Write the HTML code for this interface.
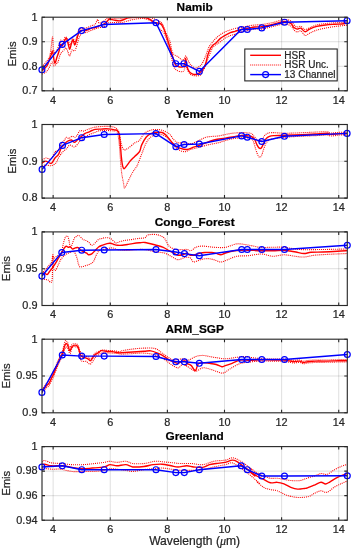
<!DOCTYPE html><html><head><meta charset="utf-8"><title>Emissivity spectra</title><style>html,body{margin:0;padding:0;background:#fff;width:353px;height:550px;overflow:hidden}svg{display:block}text{font-family:"Liberation Sans",Arial,Helvetica,sans-serif;stroke:#262626;stroke-width:0.22px}text.t{stroke:#000}</style></head><body><svg width="353" height="550" viewBox="0 0 353 550"><rect width="353" height="550" fill="#fff"/><g><path d="M53.14 17.2V90.8M110.26 17.2V90.8M167.38 17.2V90.8M224.49 17.2V90.8M281.61 17.2V90.8M338.73 17.2V90.8" stroke="#262626" stroke-opacity="0.17" stroke-width="0.9" fill="none"/><path d="M42 66.27H347.3M42 41.73H347.3" stroke="#262626" stroke-opacity="0.17" stroke-width="0.9" fill="none"/><clipPath id="c0"><rect x="42" y="17.2" width="305.3" height="73.6"/></clipPath><g clip-path="url(#c0)" fill="none"><path d="M42 67C42.67 66.17 44.67 64 46 62C47.33 60 48.92 59.17 50 55C51.08 50.83 51.92 37.83 52.5 37C53.08 36.17 52.92 47.5 53.5 50C54.08 52.5 55.08 52.83 56 52C56.92 51.17 58.17 47 59 45C59.83 43 60.33 40.5 61 40C61.67 39.5 62.27 42.52 63 42C63.73 41.48 64.57 37.23 65.4 36.9C66.23 36.57 67.23 38.65 68 40C68.77 41.35 69.17 45.33 70 45C70.83 44.67 72.17 38.5 73 38C73.83 37.5 74.17 43 75 42C75.83 41 77.17 34.17 78 32C78.83 29.83 78.67 29.67 80 29C81.33 28.33 84 28.58 86 28C88 27.42 90.5 26.08 92 25.5C93.5 24.92 94.03 25.52 95 24.5C95.97 23.48 97.13 19.65 97.8 19.4C98.47 19.15 97.97 22.73 99 23C100.03 23.27 102.67 21.75 104 21C105.33 20.25 105.67 18.95 107 18.5C108.33 18.05 110.17 18.25 112 18.3C113.83 18.35 116 18.85 118 18.8C120 18.75 122 18.3 124 18C126 17.7 126 17.17 130 17C134 16.83 144.47 16.85 148 17C151.53 17.15 149.87 17.48 151.2 17.9C152.53 18.32 154.5 18.85 156 19.5C157.5 20.15 159.03 20.88 160.2 21.8C161.37 22.72 162.03 23.13 163 25C163.97 26.87 164.87 30.33 166 33C167.13 35.67 168.78 37.95 169.8 41C170.82 44.05 171.33 49.02 172.1 51.3C172.87 53.58 173.37 53.75 174.4 54.7C175.43 55.65 176.88 56.07 178.3 57C179.72 57.93 181.67 60.47 182.9 60.3C184.13 60.13 185.02 56.38 185.7 56C186.38 55.62 186.28 56.67 187 58C187.72 59.33 188.67 62.33 190 64C191.33 65.67 193.33 67.67 195 68C196.67 68.33 198.67 67 200 66C201.33 65 202 63.83 203 62C204 60.17 205 57.5 206 55C207 52.5 207.78 49.3 209 47C210.22 44.7 211.63 43.1 213.3 41.2C214.97 39.3 217.1 37.13 219 35.6C220.9 34.07 222.82 32.95 224.7 32C226.58 31.05 228.58 30.48 230.3 29.9C232.02 29.32 233.22 28.9 235 28.5C236.78 28.1 238.83 27.92 241 27.5C243.17 27.08 245.67 26.42 248 26C250.33 25.58 252.67 25.25 255 25C257.33 24.75 259 24.92 262 24.5C265 24.08 269.33 23.33 273 22.5C276.67 21.67 281 19.75 284 19.5C287 19.25 289.33 20.08 291 21C292.67 21.92 293 24 294 25C295 26 295.83 26.75 297 27C298.17 27.25 299.67 26.08 301 26.5C302.33 26.92 303.5 29.33 305 29.5C306.5 29.67 308 28.28 310 27.5C312 26.72 314.33 25.47 317 24.8C319.67 24.13 323 23.83 326 23.5C329 23.17 332 23 335 22.8C338 22.6 341.95 22.52 344 22.3C346.05 22.08 346.75 21.63 347.3 21.5" stroke="#ff0000" stroke-width="1.1" stroke-dasharray="1 1"/><path d="M42 74C42.67 73.67 44.83 73 46 72C47.17 71 48 69.67 49 68C50 66.33 51.17 62.33 52 62C52.83 61.67 53.33 65.67 54 66C54.67 66.33 55.33 64.67 56 64C56.67 63.33 57.33 63.5 58 62C58.67 60.5 59.33 56.67 60 55C60.67 53.33 61.33 52.83 62 52C62.67 51.17 63.33 50.67 64 50C64.67 49.33 65.33 47.67 66 48C66.67 48.33 67.4 50.67 68 52C68.6 53.33 68.93 56.33 69.6 56C70.27 55.67 71.15 50.85 72 50C72.85 49.15 73.87 51.73 74.7 50.9C75.53 50.07 76.28 47.15 77 45C77.72 42.85 78.17 40 79 38C79.83 36 80.83 33.92 82 33C83.17 32.08 84.33 33 86 32.5C87.67 32 90 30.75 92 30C94 29.25 96 28.58 98 28C100 27.42 102.68 27.23 104 26.5C105.32 25.77 104.45 24.27 105.9 23.6C107.35 22.93 110.07 22.68 112.7 22.5C115.33 22.32 119.43 22.7 121.7 22.5C123.97 22.3 124.02 21.87 126.3 21.3C128.58 20.73 132.38 19.55 135.4 19.1C138.42 18.65 141.77 18.3 144.4 18.6C147.03 18.9 149.43 20.25 151.2 20.9C152.97 21.55 153.87 21.48 155 22.5C156.13 23.52 157 25.75 158 27C159 28.25 159.88 28.78 161 30C162.12 31.22 163.52 31.88 164.7 34.3C165.88 36.72 167.15 41.3 168.1 44.5C169.05 47.7 169.73 50.87 170.4 53.5C171.07 56.13 171.53 58.03 172.1 60.3C172.67 62.57 172.95 65.4 173.8 67.1C174.65 68.8 175.88 69.73 177.2 70.5C178.52 71.27 180.57 71.7 181.7 71.7C182.83 71.7 183.33 71.63 184 70.5C184.67 69.37 185.12 64.98 185.7 64.9C186.28 64.82 186.78 68.48 187.5 70C188.22 71.52 189.23 73.13 190 74C190.77 74.87 191.1 74.88 192.1 75.2C193.1 75.52 194.6 75.93 196 75.9C197.4 75.87 199.33 75.82 200.5 75C201.67 74.18 202.25 72.33 203 71C203.75 69.67 204.33 68.67 205 67C205.67 65.33 206.2 63.17 207 61C207.8 58.83 208.75 56.35 209.8 54C210.85 51.65 211.77 48.78 213.3 46.9C214.83 45.02 217.1 44.12 219 42.7C220.9 41.28 222.82 39.58 224.7 38.4C226.58 37.22 228.58 36.3 230.3 35.6C232.02 34.9 233.22 34.8 235 34.2C236.78 33.6 238.83 32.62 241 32C243.17 31.38 245.67 31 248 30.5C250.33 30 252.67 29.25 255 29C257.33 28.75 259 29.42 262 29C265 28.58 269.33 27.33 273 26.5C276.67 25.67 281 24.08 284 24C287 23.92 289.33 25 291 26C292.67 27 293 29 294 30C295 31 295.83 31.83 297 32C298.17 32.17 299.67 30.43 301 31C302.33 31.57 303.5 35.07 305 35.4C306.5 35.73 308 33.9 310 33C312 32.1 314.33 30.83 317 30C319.67 29.17 323 28.58 326 28C329 27.42 332 26.92 335 26.5C338 26.08 341.95 25.75 344 25.5C346.05 25.25 346.75 25.08 347.3 25" stroke="#ff0000" stroke-width="1.1" stroke-dasharray="1 1"/><path d="M42 70.8C42.85 69.95 45.83 67.68 47.1 65.7C48.37 63.72 48.9 60.75 49.6 58.9C50.3 57.05 50.8 55.88 51.3 54.6C51.8 53.32 52.03 49.8 52.6 51.2C53.17 52.6 53.97 62.03 54.7 63C55.43 63.97 56.28 58.97 57 57C57.72 55.03 58.38 53.3 59 51.2C59.62 49.1 60.17 45.27 60.7 44.4C61.23 43.53 61.65 46.4 62.2 46C62.75 45.6 63.33 43.32 64 42C64.67 40.68 65.53 37.9 66.2 38.1C66.87 38.3 67.43 41.35 68 43.2C68.57 45.05 69.05 49.05 69.6 49.2C70.15 49.35 70.73 45.67 71.3 44.1C71.87 42.53 72.43 39.65 73 39.8C73.57 39.95 74.13 44.85 74.7 45C75.27 45.15 75.83 42.42 76.4 40.7C76.97 38.98 77.53 36.27 78.1 34.7C78.67 33.13 79.08 32 79.8 31.3C80.52 30.6 81.4 30.63 82.4 30.5C83.4 30.37 84.82 30.65 85.8 30.5C86.78 30.35 87.2 30.05 88.3 29.6C89.4 29.15 91.28 28.13 92.4 27.8C93.52 27.47 93.82 27.97 95 27.6C96.18 27.23 98.17 26.12 99.5 25.6C100.83 25.08 101.87 25.07 103 24.5C104.13 23.93 105.25 23.1 106.3 22.2C107.35 21.3 108.35 19.53 109.3 19.1C110.25 18.67 111.05 19.42 112 19.6C112.95 19.78 113.75 19.98 115 20.2C116.25 20.42 118 21.02 119.5 20.9C121 20.78 122.5 20 124 19.5C125.5 19 126.6 18.28 128.5 17.9C130.4 17.52 133.12 17.32 135.4 17.2C137.68 17.08 140.32 17.08 142.2 17.2C144.08 17.32 145.2 17.4 146.7 17.9C148.2 18.4 149.88 19.43 151.2 20.2C152.52 20.97 153.1 21.95 154.6 22.5C156.1 23.05 158.88 22.87 160.2 23.5C161.52 24.13 161.75 25.07 162.5 26.3C163.25 27.53 163.95 29 164.7 30.9C165.45 32.8 166.33 35.63 167 37.7C167.67 39.77 168.13 41.42 168.7 43.3C169.27 45.18 169.83 47.1 170.4 49C170.97 50.9 171.53 52.82 172.1 54.7C172.67 56.58 173.23 58.6 173.8 60.3C174.37 62 174.75 63.85 175.5 64.9C176.25 65.95 177.35 66.23 178.3 66.6C179.25 66.97 180.35 67.1 181.2 67.1C182.05 67.1 182.75 67.35 183.4 66.6C184.05 65.85 184.72 63.93 185.1 62.6C185.48 61.27 185.37 57.92 185.7 58.6C186.03 59.28 186.52 64.52 187.1 66.7C187.68 68.88 188.37 70.52 189.2 71.7C190.03 72.88 191.03 73.33 192.1 73.8C193.17 74.27 194.42 74.62 195.6 74.5C196.78 74.38 198.02 73.92 199.2 73.1C200.38 72.28 201.65 71.13 202.7 69.6C203.75 68.07 204.67 66.27 205.5 63.9C206.33 61.53 206.98 57.77 207.7 55.4C208.42 53.03 208.98 51.35 209.8 49.7C210.62 48.05 211.53 46.67 212.6 45.5C213.67 44.33 214.9 43.88 216.2 42.7C217.5 41.52 218.98 39.58 220.4 38.4C221.82 37.22 223.05 36.55 224.7 35.6C226.35 34.65 228.58 33.42 230.3 32.7C232.02 31.98 233.18 31.83 235 31.3C236.82 30.77 239.03 30.02 241.2 29.5C243.37 28.98 245.73 28.62 248 28.2C250.27 27.78 252.5 27.25 254.8 27C257.1 26.75 258.82 27.12 261.8 26.7C264.78 26.28 269 25.37 272.7 24.5C276.4 23.63 280.98 21.7 284 21.5C287.02 21.3 289.2 22.33 290.8 23.3C292.4 24.27 292.55 26.33 293.6 27.3C294.65 28.27 295.92 28.95 297.1 29.1C298.28 29.25 299.35 27.75 300.7 28.2C302.05 28.65 303.72 31.65 305.2 31.8C306.68 31.95 307.67 30 309.6 29.1C311.53 28.2 314.12 27.08 316.8 26.4C319.48 25.72 322.73 25.35 325.7 25C328.67 24.65 331.62 24.5 334.6 24.3C337.58 24.1 341.48 24.03 343.6 23.8C345.72 23.57 346.68 23.05 347.3 22.9" stroke="#ff0000" stroke-width="1.4" stroke-linejoin="round"/><polyline points="41.9,69.8 62.2,44.4 81.7,30.6 104.2,24.5 156,22.7 175.7,63.7 183.9,63.7 199.3,71.4 241.2,29.5 247.3,29.5 261.8,27.9 284.5,22.2 347.1,20.7" stroke="#0000ff" stroke-width="1.45" stroke-linejoin="round"/></g><circle cx="41.9" cy="69.8" r="2.95" stroke="#0000ff" stroke-width="1.2" fill="none"/><circle cx="62.2" cy="44.4" r="2.95" stroke="#0000ff" stroke-width="1.2" fill="none"/><circle cx="81.7" cy="30.6" r="2.95" stroke="#0000ff" stroke-width="1.2" fill="none"/><circle cx="104.2" cy="24.5" r="2.95" stroke="#0000ff" stroke-width="1.2" fill="none"/><circle cx="156" cy="22.7" r="2.95" stroke="#0000ff" stroke-width="1.2" fill="none"/><circle cx="175.7" cy="63.7" r="2.95" stroke="#0000ff" stroke-width="1.2" fill="none"/><circle cx="183.9" cy="63.7" r="2.95" stroke="#0000ff" stroke-width="1.2" fill="none"/><circle cx="199.3" cy="71.4" r="2.95" stroke="#0000ff" stroke-width="1.2" fill="none"/><circle cx="241.2" cy="29.5" r="2.95" stroke="#0000ff" stroke-width="1.2" fill="none"/><circle cx="247.3" cy="29.5" r="2.95" stroke="#0000ff" stroke-width="1.2" fill="none"/><circle cx="261.8" cy="27.9" r="2.95" stroke="#0000ff" stroke-width="1.2" fill="none"/><circle cx="284.5" cy="22.2" r="2.95" stroke="#0000ff" stroke-width="1.2" fill="none"/><circle cx="347.1" cy="20.7" r="2.95" stroke="#0000ff" stroke-width="1.2" fill="none"/><rect x="42" y="17.2" width="305.3" height="73.6" fill="none" stroke="#2b2b2b" stroke-width="1.15"/><path d="M53.14 90.8v-3M53.14 17.2v3M110.26 90.8v-3M110.26 17.2v3M167.38 90.8v-3M167.38 17.2v3M224.49 90.8v-3M224.49 17.2v3M281.61 90.8v-3M281.61 17.2v3M338.73 90.8v-3M338.73 17.2v3M42 90.8h3M347.3 90.8h-3M42 66.27h3M347.3 66.27h-3M42 41.73h3M347.3 41.73h-3M42 17.2h3M347.3 17.2h-3" stroke="#262626" stroke-width="1.1" fill="none"/><text x="53.14" y="103.5" font-size="10.9" fill="#262626" text-anchor="middle">4</text><text x="110.26" y="103.5" font-size="10.9" fill="#262626" text-anchor="middle">6</text><text x="167.38" y="103.5" font-size="10.9" fill="#262626" text-anchor="middle">8</text><text x="224.49" y="103.5" font-size="10.9" fill="#262626" text-anchor="middle">10</text><text x="281.61" y="103.5" font-size="10.9" fill="#262626" text-anchor="middle">12</text><text x="338.73" y="103.5" font-size="10.9" fill="#262626" text-anchor="middle">14</text><text x="37.5" y="94.1" font-size="10.9" fill="#262626" text-anchor="end">0.7</text><text x="37.5" y="69.57" font-size="10.9" fill="#262626" text-anchor="end">0.8</text><text x="37.5" y="45.03" font-size="10.9" fill="#262626" text-anchor="end">0.9</text><text x="37.5" y="20.5" font-size="10.9" fill="#262626" text-anchor="end">1</text><text class="t" x="194.65" y="11" font-size="11.8" font-weight="bold" fill="#000" text-anchor="middle">Namib</text><text transform="translate(16.1 53.9) rotate(-90)" font-size="11.3" fill="#262626" text-anchor="middle">Emis</text></g><g><path d="M53.14 124.5V198.1M110.26 124.5V198.1M167.38 124.5V198.1M224.49 124.5V198.1M281.61 124.5V198.1M338.73 124.5V198.1" stroke="#262626" stroke-opacity="0.17" stroke-width="0.9" fill="none"/><path d="M42 161.3H347.3" stroke="#262626" stroke-opacity="0.17" stroke-width="0.9" fill="none"/><clipPath id="c1"><rect x="42" y="124.5" width="305.3" height="73.6"/></clipPath><g clip-path="url(#c1)" fill="none"><path d="M42 160C42.67 159.67 44.5 158.17 46 158C47.5 157.83 49.5 160 51 159C52.5 158 53.83 153.5 55 152C56.17 150.5 56.87 151.42 58 150C59.13 148.58 60.67 145.23 61.8 143.5C62.93 141.77 64.02 140.63 64.8 139.6C65.58 138.57 65.83 137.48 66.5 137.3C67.17 137.12 68.05 138.58 68.8 138.5C69.55 138.42 70.35 137.18 71 136.8C71.65 136.42 72.03 136.12 72.7 136.2C73.37 136.28 74.23 137.48 75 137.3C75.77 137.12 76.63 136.03 77.3 135.1C77.97 134.17 78.43 132.47 79 131.7C79.57 130.93 80.03 130.6 80.7 130.5C81.37 130.4 82.07 131.18 83 131.1C83.93 131.02 84.98 130.47 86.3 130C87.62 129.53 89.38 128.78 90.9 128.3C92.42 127.82 93.55 127.4 95.4 127.1C97.25 126.8 99.57 126.6 102 126.5C104.43 126.4 107.83 126.33 110 126.5C112.17 126.67 113.83 127.08 115 127.5C116.17 127.92 116.33 128.17 117 129C117.67 129.83 118.33 130.22 119 132.5C119.67 134.78 120.23 139.87 121 142.7C121.77 145.53 122.43 148.57 123.6 149.5C124.77 150.43 126.1 149.43 128 148.3C129.9 147.17 133.08 144.02 135 142.7C136.92 141.38 138 141.92 139.5 140.4C141 138.88 142.12 135.3 144 133.6C145.88 131.9 148.9 130.88 150.8 130.2C152.7 129.52 153.53 129.5 155.4 129.5C157.27 129.5 159.73 129.52 162 130.2C164.27 130.88 167.08 132.08 169 133.6C170.92 135.12 172 137.78 173.5 139.3C175 140.82 176.12 142.13 178 142.7C179.88 143.27 182.63 142.52 184.8 142.7C186.97 142.88 188.63 144.18 191 143.8C193.37 143.42 196.33 141.53 199 140.4C201.67 139.27 203.75 137.75 207 137C210.25 136.25 214.67 136.47 218.5 135.9C222.33 135.33 226.13 134.17 230 133.6C233.87 133.03 238.9 132.62 241.7 132.5C244.5 132.38 245.2 132.75 246.8 132.9C248.4 133.05 250.17 132.92 251.3 133.4C252.43 133.88 252.83 134.93 253.6 135.8C254.37 136.67 255.17 137.73 255.9 138.6C256.63 139.47 257.35 140.53 258 141C258.65 141.47 259.12 141.7 259.8 141.4C260.48 141.1 261.33 140.13 262.1 139.2C262.87 138.27 263.55 136.75 264.4 135.8C265.25 134.85 265.98 134.03 267.2 133.5C268.42 132.97 268.9 132.65 271.7 132.6C274.5 132.55 280.05 133.13 284 133.2C287.95 133.27 291.62 133.12 295.4 133C299.18 132.88 302.93 132.67 306.7 132.5C310.47 132.33 314.62 132.12 318 132C321.38 131.88 324.83 131.63 327 131.8C329.17 131.97 328.83 132.92 331 133C333.17 133.08 337.33 132.42 340 132.3C342.67 132.18 345.83 132.3 347 132.3" stroke="#ff0000" stroke-width="1.1" stroke-dasharray="1 1"/><path d="M42 166C42.67 165.83 44.45 165.05 46 165C47.55 164.95 49.63 166.03 51.3 165.7C52.97 165.37 54.82 164.28 56 163C57.18 161.72 57.32 159.82 58.4 158C59.48 156.18 61.4 153.43 62.5 152.1C63.6 150.77 64.23 150.67 65 150C65.77 149.33 66.38 148.88 67.1 148.1C67.82 147.32 68.57 145.73 69.3 145.3C70.03 144.87 70.73 145.22 71.5 145.5C72.27 145.78 73.15 146.92 73.9 147C74.65 147.08 75.25 146.67 76 146C76.75 145.33 77.62 143.88 78.4 143C79.18 142.12 79.93 141.37 80.7 140.7C81.47 140.03 82.07 139.75 83 139C83.93 138.25 84.98 137.05 86.3 136.2C87.62 135.35 89.38 134.57 90.9 133.9C92.42 133.23 94.02 132.72 95.4 132.2C96.78 131.68 97.43 131.08 99.2 130.8C100.97 130.52 103.37 130.47 106 130.5C108.63 130.53 113.17 130.87 115 131C116.83 131.13 116.32 129.35 117 131.3C117.68 133.25 118.38 136.27 119.1 142.7C119.82 149.13 120.55 163.1 121.3 169.9C122.05 176.7 123.03 180.48 123.6 183.5C124.17 186.52 123.95 188.38 124.7 188C125.45 187.62 126.77 183.83 128.1 181.2C129.43 178.57 131.18 174.83 132.7 172.2C134.22 169.57 135.7 168.43 137.2 165.4C138.7 162.37 140.18 157.78 141.7 154C143.22 150.22 144.78 145.53 146.3 142.7C147.82 139.87 149.28 138.33 150.8 137C152.32 135.67 153.5 135.08 155.4 134.7C157.3 134.32 159.93 133.93 162.2 134.7C164.47 135.47 167.12 137.58 169 139.3C170.88 141.02 172 143.3 173.5 145C175 146.7 176.12 148.38 178 149.5C179.88 150.62 182.77 151.7 184.8 151.7C186.83 151.7 187.78 150.25 190.2 149.5C192.62 148.75 196.47 147.95 199.3 147.2C202.13 146.45 204 145.75 207.2 145C210.4 144.25 214.72 143.65 218.5 142.7C222.28 141.75 226.03 140.13 229.9 139.3C233.77 138.47 238.88 137.95 241.7 137.7C244.52 137.45 245.2 137.65 246.8 137.8C248.4 137.95 250.17 137.9 251.3 138.6C252.43 139.3 252.83 140.12 253.6 142C254.37 143.88 255.15 147.63 255.9 149.9C256.65 152.17 257.45 154.37 258.1 155.6C258.75 156.83 259.23 157.3 259.8 157.3C260.37 157.3 260.83 157.02 261.5 155.6C262.17 154.18 263.03 150.88 263.8 148.8C264.57 146.72 265.15 144.62 266.1 143.1C267.05 141.58 268.18 140.45 269.5 139.7C270.82 138.95 271.58 138.97 274 138.6C276.42 138.23 280.43 137.85 284 137.5C287.57 137.15 291.62 136.75 295.4 136.5C299.18 136.25 302.93 136.17 306.7 136C310.47 135.83 314.62 135.67 318 135.5C321.38 135.33 324.83 134.92 327 135C329.17 135.08 328.83 136 331 136C333.17 136 337.33 135.2 340 135C342.67 134.8 345.83 134.83 347 134.8" stroke="#ff0000" stroke-width="1.1" stroke-dasharray="1 1"/><path d="M41.7 163.4C42.37 163.02 44.1 161.1 45.7 161.1C47.3 161.1 49.75 163.92 51.3 163.4C52.85 162.88 53.82 159.47 55 158C56.18 156.53 57.37 156.27 58.4 154.6C59.43 152.93 60.42 149.47 61.2 148C61.98 146.53 62.32 146.73 63.1 145.8C63.88 144.87 64.95 143.25 65.9 142.4C66.85 141.55 67.87 141.1 68.8 140.7C69.73 140.3 70.57 139.72 71.5 140C72.43 140.28 73.53 142.28 74.4 142.4C75.27 142.52 75.85 141.45 76.7 140.7C77.55 139.95 78.55 138.75 79.5 137.9C80.45 137.05 81.45 136.35 82.4 135.6C83.35 134.85 84.17 133.97 85.2 133.4C86.23 132.83 87.47 132.68 88.6 132.2C89.73 131.72 90.87 130.97 92 130.5C93.13 130.03 93.92 129.63 95.4 129.4C96.88 129.17 99.13 129.2 100.9 129.1C102.67 129 104.3 128.8 106 128.8C107.7 128.8 109.6 128.9 111.1 129.1C112.6 129.3 114.05 129.82 115 130C115.95 130.18 116.12 129.6 116.8 130.2C117.48 130.8 118.53 131.52 119.1 133.6C119.67 135.68 119.83 138.92 120.2 142.7C120.57 146.48 120.92 152.52 121.3 156.3C121.68 160.08 122.03 163.32 122.5 165.4C122.97 167.48 123.35 168.8 124.1 168.8C124.85 168.8 125.95 166.73 127 165.4C128.05 164.07 129.08 162.32 130.4 160.8C131.72 159.28 133.38 157.82 134.9 156.3C136.42 154.78 138.37 153.6 139.5 151.7C140.63 149.8 140.57 147.35 141.7 144.9C142.83 142.45 144.78 138.88 146.3 137C147.82 135.12 149.28 134.35 150.8 133.6C152.32 132.85 153.5 132.68 155.4 132.5C157.3 132.32 160.32 131.93 162.2 132.5C164.08 133.07 165.2 134.4 166.7 135.9C168.2 137.4 169.68 139.8 171.2 141.5C172.72 143.2 174.28 144.97 175.8 146.1C177.32 147.23 178.47 147.73 180.3 148.3C182.13 148.87 184.58 149.68 186.8 149.5C189.02 149.32 191.52 147.88 193.6 147.2C195.68 146.52 195.9 146.6 199.3 145.4C202.7 144.2 209.65 141.22 214 140C218.35 138.78 220.78 138.87 225.4 138.1C230.02 137.33 238.13 135.78 241.7 135.4C245.27 135.02 245.2 135.65 246.8 135.8C248.4 135.95 249.98 135.65 251.3 136.3C252.62 136.95 253.75 138.28 254.7 139.7C255.65 141.12 256.23 143.38 257 144.8C257.77 146.22 258.55 147.72 259.3 148.2C260.05 148.68 260.75 148.55 261.5 147.7C262.25 146.85 263.03 144.62 263.8 143.1C264.57 141.58 265.15 139.73 266.1 138.6C267.05 137.47 268.18 136.8 269.5 136.3C270.82 135.8 271.42 135.77 274 135.6C276.58 135.43 280.27 135.47 285 135.3C289.73 135.13 297.4 134.82 302.4 134.6C307.4 134.38 310.85 134.22 315 134C319.15 133.78 324.63 133.22 327.3 133.3C329.97 133.38 328.92 134.45 331 134.5C333.08 134.55 337.1 133.77 339.8 133.6C342.5 133.43 345.97 133.52 347.2 133.5" stroke="#ff0000" stroke-width="1.4" stroke-linejoin="round"/><polyline points="42.1,169.4 62.5,145.4 81.7,137.7 104.2,134.5 156,133.6 175.9,146.7 184.1,144.5 199.3,144 241.6,135.9 247.3,137.2 261.8,141.5 284.4,136.3 347.1,133.4" stroke="#0000ff" stroke-width="1.45" stroke-linejoin="round"/></g><circle cx="42.1" cy="169.4" r="2.95" stroke="#0000ff" stroke-width="1.2" fill="none"/><circle cx="62.5" cy="145.4" r="2.95" stroke="#0000ff" stroke-width="1.2" fill="none"/><circle cx="81.7" cy="137.7" r="2.95" stroke="#0000ff" stroke-width="1.2" fill="none"/><circle cx="104.2" cy="134.5" r="2.95" stroke="#0000ff" stroke-width="1.2" fill="none"/><circle cx="156" cy="133.6" r="2.95" stroke="#0000ff" stroke-width="1.2" fill="none"/><circle cx="175.9" cy="146.7" r="2.95" stroke="#0000ff" stroke-width="1.2" fill="none"/><circle cx="184.1" cy="144.5" r="2.95" stroke="#0000ff" stroke-width="1.2" fill="none"/><circle cx="199.3" cy="144" r="2.95" stroke="#0000ff" stroke-width="1.2" fill="none"/><circle cx="241.6" cy="135.9" r="2.95" stroke="#0000ff" stroke-width="1.2" fill="none"/><circle cx="247.3" cy="137.2" r="2.95" stroke="#0000ff" stroke-width="1.2" fill="none"/><circle cx="261.8" cy="141.5" r="2.95" stroke="#0000ff" stroke-width="1.2" fill="none"/><circle cx="284.4" cy="136.3" r="2.95" stroke="#0000ff" stroke-width="1.2" fill="none"/><circle cx="347.1" cy="133.4" r="2.95" stroke="#0000ff" stroke-width="1.2" fill="none"/><rect x="42" y="124.5" width="305.3" height="73.6" fill="none" stroke="#2b2b2b" stroke-width="1.15"/><path d="M53.14 198.1v-3M53.14 124.5v3M110.26 198.1v-3M110.26 124.5v3M167.38 198.1v-3M167.38 124.5v3M224.49 198.1v-3M224.49 124.5v3M281.61 198.1v-3M281.61 124.5v3M338.73 198.1v-3M338.73 124.5v3M42 198.1h3M347.3 198.1h-3M42 161.3h3M347.3 161.3h-3M42 124.5h3M347.3 124.5h-3" stroke="#262626" stroke-width="1.1" fill="none"/><text x="53.14" y="210.8" font-size="10.9" fill="#262626" text-anchor="middle">4</text><text x="110.26" y="210.8" font-size="10.9" fill="#262626" text-anchor="middle">6</text><text x="167.38" y="210.8" font-size="10.9" fill="#262626" text-anchor="middle">8</text><text x="224.49" y="210.8" font-size="10.9" fill="#262626" text-anchor="middle">10</text><text x="281.61" y="210.8" font-size="10.9" fill="#262626" text-anchor="middle">12</text><text x="338.73" y="210.8" font-size="10.9" fill="#262626" text-anchor="middle">14</text><text x="37.5" y="201.4" font-size="10.9" fill="#262626" text-anchor="end">0.8</text><text x="37.5" y="164.6" font-size="10.9" fill="#262626" text-anchor="end">0.9</text><text x="37.5" y="127.8" font-size="10.9" fill="#262626" text-anchor="end">1</text><text class="t" x="194.65" y="118.3" font-size="11.8" font-weight="bold" fill="#000" text-anchor="middle">Yemen</text><text transform="translate(16.1 161.2) rotate(-90)" font-size="11.3" fill="#262626" text-anchor="middle">Emis</text></g><g><path d="M53.14 231.9V305.5M110.26 231.9V305.5M167.38 231.9V305.5M224.49 231.9V305.5M281.61 231.9V305.5M338.73 231.9V305.5" stroke="#262626" stroke-opacity="0.17" stroke-width="0.9" fill="none"/><path d="M42 268.7H347.3" stroke="#262626" stroke-opacity="0.17" stroke-width="0.9" fill="none"/><clipPath id="c2"><rect x="42" y="231.9" width="305.3" height="73.6"/></clipPath><g clip-path="url(#c2)" fill="none"><path d="M41.9 273.4C42.75 272.45 45.38 269.6 47 267.7C48.62 265.8 50.65 264.17 51.6 262C52.55 259.83 52.3 255.37 52.7 254.7C53.1 254.03 53.28 257.78 54 258C54.72 258.22 55.8 256.83 57 256C58.2 255.17 60.13 255.12 61.2 253C62.27 250.88 62.68 245.97 63.4 243.3C64.12 240.63 64.8 238.18 65.5 237C66.2 235.82 67.02 235.62 67.6 236.2C68.18 236.78 68.52 238.6 69 240.5C69.48 242.4 69.9 247.18 70.5 247.6C71.1 248.02 71.93 244.6 72.6 243C73.27 241.4 73.8 239.13 74.5 238C75.2 236.87 76.05 236.62 76.8 236.2C77.55 235.78 78.05 235.02 79 235.5C79.95 235.98 81.5 238.32 82.5 239.1C83.5 239.88 84.02 239.73 85 240.2C85.98 240.67 87.27 241.05 88.4 241.9C89.53 242.75 90.67 245.15 91.8 245.3C92.93 245.45 94.07 243.78 95.2 242.8C96.33 241.82 97.47 240.12 98.6 239.4C99.73 238.68 100.87 238.78 102 238.5C103.13 238.22 103.98 237.7 105.4 237.7C106.82 237.7 108.8 237.65 110.5 238.5C112.2 239.35 114.18 242.23 115.6 242.8C117.02 243.37 117.58 242.28 119 241.9C120.42 241.52 122.4 240.83 124.1 240.5C125.8 240.17 127.22 240.18 129.2 239.9C131.18 239.62 134.02 239.08 136 238.8C137.98 238.52 139.6 238.38 141.1 238.2C142.6 238.02 143.77 238.27 145 237.7C146.23 237.13 146.4 235.28 148.5 234.8C150.6 234.32 154.95 234.23 157.6 234.8C160.25 235.37 162.5 236.32 164.4 238.2C166.3 240.08 167.1 244.22 169 246.1C170.9 247.98 173.53 248.93 175.8 249.5C178.07 250.07 180.72 249.5 182.6 249.5C184.48 249.5 185.7 249.3 187.1 249.5C188.5 249.7 189.53 251.07 191 250.7C192.47 250.33 193.95 248.07 195.9 247.3C197.85 246.53 199.68 246.1 202.7 246.1C205.72 246.1 210.22 247.1 214 247.3C217.78 247.5 221.62 247.87 225.4 247.3C229.18 246.73 232.93 244.28 236.7 243.9C240.47 243.52 244.12 244.43 248 245C251.88 245.57 256 246.92 260 247.3C264 247.68 268 247.3 272 247.3C276 247.3 279.33 246.93 284 247.3C288.67 247.67 293.67 249.13 300 249.5C306.33 249.87 314.17 249.58 322 249.5C329.83 249.42 342.83 249.08 347 249" stroke="#ff0000" stroke-width="1.1" stroke-dasharray="1 1"/><path d="M41.9 279C42.5 279.08 44.4 279.3 45.5 279.5C46.6 279.7 47.65 279.73 48.5 280.2C49.35 280.67 49.98 282.5 50.6 282.3C51.22 282.1 51.82 283.38 52.2 279C52.58 274.62 52.67 257.83 52.9 256C53.13 254.17 53.15 265.63 53.6 268C54.05 270.37 54.8 270.77 55.6 270.2C56.4 269.63 57.47 266.48 58.4 264.6C59.33 262.72 60.02 260.55 61.2 258.9C62.38 257.25 64.03 255.77 65.5 254.7C66.97 253.63 68.58 252.98 70 252.5C71.42 252.02 72.87 250.97 74 251.8C75.13 252.63 76.1 255.6 76.8 257.5C77.5 259.4 77.72 261.67 78.2 263.2C78.68 264.73 78.98 266.12 79.7 266.7C80.42 267.28 81.33 266.93 82.5 266.7C83.67 266.47 85.43 265.75 86.7 265.3C87.97 264.85 88.97 264.63 90.1 264C91.23 263.37 92.5 262.92 93.5 261.5C94.5 260.08 95.25 257.2 96.1 255.5C96.95 253.8 97.62 252.28 98.6 251.3C99.58 250.32 100.58 250.03 102 249.6C103.42 249.17 105.4 248.98 107.1 248.7C108.8 248.42 110.5 247.75 112.2 247.9C113.9 248.05 115.6 249.18 117.3 249.6C119 250.02 120.42 250.27 122.4 250.4C124.38 250.53 126.93 250.53 129.2 250.4C131.47 250.27 133.37 249.73 136 249.6C138.63 249.47 141.77 249.23 145 249.6C148.23 249.97 152.17 251.23 155.4 251.8C158.63 252.37 161.77 252.25 164.4 253C167.03 253.75 168.93 255.18 171.2 256.3C173.47 257.42 175.73 259.5 178 259.7C180.27 259.9 182.77 257.82 184.8 257.5C186.83 257.18 188.73 257.05 190.2 257.8C191.67 258.55 191.9 261.68 193.6 262C195.3 262.32 198.13 260.27 200.4 259.7C202.67 259.13 204.93 258.6 207.2 258.6C209.47 258.6 211.73 259.13 214 259.7C216.27 260.27 218.53 262 220.8 262C223.07 262 224.95 260.65 227.6 259.7C230.25 258.75 233.3 256.97 236.7 256.3C240.1 255.63 243.82 256.08 248 255.7C252.18 255.32 257.68 253.9 261.8 254C265.92 254.1 269 256.17 272.7 256.3C276.4 256.43 280.22 254.8 284 254.8C287.78 254.8 292 255.93 295.4 256.3C298.8 256.67 300.8 257.22 304.4 257C308 256.78 309.85 255.58 317 255C324.15 254.42 342.25 253.75 347.3 253.5" stroke="#ff0000" stroke-width="1.1" stroke-dasharray="1 1"/><path d="M41.9 275.6C42.25 275.17 43.13 273.18 44 273C44.87 272.82 46.23 274.67 47.1 274.5C47.97 274.33 48.62 272.72 49.2 272C49.78 271.28 50.02 270.97 50.6 270.2C51.18 269.43 51.87 268.57 52.7 267.4C53.53 266.23 54.65 264.73 55.6 263.2C56.55 261.67 57.47 259.73 58.4 258.2C59.33 256.67 60.25 255.65 61.2 254C62.15 252.35 63.27 249.6 64.1 248.3C64.93 247 65.5 246.37 66.2 246.2C66.9 246.03 67.6 247.2 68.3 247.3C69 247.4 69.68 246.52 70.4 246.8C71.12 247.08 71.77 248.82 72.6 249C73.43 249.18 74.47 248.13 75.4 247.9C76.33 247.67 77.25 247.18 78.2 247.6C79.15 248.02 80.15 249.7 81.1 250.4C82.05 251.1 82.97 251.33 83.9 251.8C84.83 252.27 85.95 252.72 86.7 253.2C87.45 253.68 87.55 254.6 88.4 254.7C89.25 254.8 90.67 254.52 91.8 253.8C92.93 253.08 94.07 251.53 95.2 250.4C96.33 249.27 97.47 247.85 98.6 247C99.73 246.15 100.58 245.87 102 245.3C103.42 244.73 105.68 243.93 107.1 243.6C108.52 243.27 109.37 243.15 110.5 243.3C111.63 243.45 112.77 244.17 113.9 244.5C115.03 244.83 115.88 245.17 117.3 245.3C118.72 245.43 120.7 245.43 122.4 245.3C124.1 245.17 125.8 244.78 127.5 244.5C129.2 244.22 130.62 243.88 132.6 243.6C134.58 243.32 137.33 242.98 139.4 242.8C141.47 242.62 142.33 242.13 145 242.5C147.67 242.87 152.35 244.2 155.4 245C158.45 245.8 161.03 246.35 163.3 247.3C165.57 248.25 167.3 249.75 169 250.7C170.7 251.65 172 252.25 173.5 253C175 253.75 176.48 254.9 178 255.2C179.52 255.5 181.08 255.17 182.6 254.8C184.12 254.43 186.02 253 187.1 253C188.18 253 188.02 254.43 189.1 254.8C190.18 255.17 191.9 255.43 193.6 255.2C195.3 254.97 197.42 253.85 199.3 253.4C201.18 252.95 202.83 252.65 204.9 252.5C206.97 252.35 209.8 252.35 211.7 252.5C213.6 252.65 214.78 253.02 216.3 253.4C217.82 253.78 219.28 254.87 220.8 254.8C222.32 254.73 223.13 253.68 225.4 253C227.67 252.32 231.68 251.17 234.4 250.7C237.12 250.23 239.43 250.28 241.7 250.2C243.97 250.12 244.65 250.12 248 250.2C251.35 250.28 257.68 250.62 261.8 250.7C265.92 250.78 269 250.78 272.7 250.7C276.4 250.62 281.12 250.15 284 250.2C286.88 250.25 288 250.7 290 251C292 251.3 293.67 251.58 296 252C298.33 252.42 301.5 253.45 304 253.5C306.5 253.55 307.83 252.55 311 252.3C314.17 252.05 318.58 252.17 323 252C327.42 251.83 333.45 251.53 337.5 251.3C341.55 251.07 345.67 250.72 347.3 250.6" stroke="#ff0000" stroke-width="1.4" stroke-linejoin="round"/><polyline points="41.9,276.1 61.8,252.5 81.7,250.2 104.2,250 156,249.5 175.8,252 184.4,253.6 199.3,255.7 241.7,249.5 247.3,249.5 261.8,249.5 284.5,249.5 347.3,245.3" stroke="#0000ff" stroke-width="1.45" stroke-linejoin="round"/></g><circle cx="41.9" cy="276.1" r="2.95" stroke="#0000ff" stroke-width="1.2" fill="none"/><circle cx="61.8" cy="252.5" r="2.95" stroke="#0000ff" stroke-width="1.2" fill="none"/><circle cx="81.7" cy="250.2" r="2.95" stroke="#0000ff" stroke-width="1.2" fill="none"/><circle cx="104.2" cy="250" r="2.95" stroke="#0000ff" stroke-width="1.2" fill="none"/><circle cx="156" cy="249.5" r="2.95" stroke="#0000ff" stroke-width="1.2" fill="none"/><circle cx="175.8" cy="252" r="2.95" stroke="#0000ff" stroke-width="1.2" fill="none"/><circle cx="184.4" cy="253.6" r="2.95" stroke="#0000ff" stroke-width="1.2" fill="none"/><circle cx="199.3" cy="255.7" r="2.95" stroke="#0000ff" stroke-width="1.2" fill="none"/><circle cx="241.7" cy="249.5" r="2.95" stroke="#0000ff" stroke-width="1.2" fill="none"/><circle cx="247.3" cy="249.5" r="2.95" stroke="#0000ff" stroke-width="1.2" fill="none"/><circle cx="261.8" cy="249.5" r="2.95" stroke="#0000ff" stroke-width="1.2" fill="none"/><circle cx="284.5" cy="249.5" r="2.95" stroke="#0000ff" stroke-width="1.2" fill="none"/><circle cx="347.3" cy="245.3" r="2.95" stroke="#0000ff" stroke-width="1.2" fill="none"/><rect x="42" y="231.9" width="305.3" height="73.6" fill="none" stroke="#2b2b2b" stroke-width="1.15"/><path d="M53.14 305.5v-3M53.14 231.9v3M110.26 305.5v-3M110.26 231.9v3M167.38 305.5v-3M167.38 231.9v3M224.49 305.5v-3M224.49 231.9v3M281.61 305.5v-3M281.61 231.9v3M338.73 305.5v-3M338.73 231.9v3M42 305.5h3M347.3 305.5h-3M42 268.7h3M347.3 268.7h-3M42 231.9h3M347.3 231.9h-3" stroke="#262626" stroke-width="1.1" fill="none"/><text x="53.14" y="318.2" font-size="10.9" fill="#262626" text-anchor="middle">4</text><text x="110.26" y="318.2" font-size="10.9" fill="#262626" text-anchor="middle">6</text><text x="167.38" y="318.2" font-size="10.9" fill="#262626" text-anchor="middle">8</text><text x="224.49" y="318.2" font-size="10.9" fill="#262626" text-anchor="middle">10</text><text x="281.61" y="318.2" font-size="10.9" fill="#262626" text-anchor="middle">12</text><text x="338.73" y="318.2" font-size="10.9" fill="#262626" text-anchor="middle">14</text><text x="37.5" y="308.8" font-size="10.9" fill="#262626" text-anchor="end">0.9</text><text x="37.5" y="272" font-size="10.9" fill="#262626" text-anchor="end">0.95</text><text x="37.5" y="235.2" font-size="10.9" fill="#262626" text-anchor="end">1</text><text class="t" x="194.65" y="225.7" font-size="11.8" font-weight="bold" fill="#000" text-anchor="middle">Congo_Forest</text><text transform="translate(10.3 268.6) rotate(-90)" font-size="11.3" fill="#262626" text-anchor="middle">Emis</text></g><g><path d="M53.14 339.2V412.8M110.26 339.2V412.8M167.38 339.2V412.8M224.49 339.2V412.8M281.61 339.2V412.8M338.73 339.2V412.8" stroke="#262626" stroke-opacity="0.17" stroke-width="0.9" fill="none"/><path d="M42 376H347.3" stroke="#262626" stroke-opacity="0.17" stroke-width="0.9" fill="none"/><clipPath id="c3"><rect x="42" y="339.2" width="305.3" height="73.6"/></clipPath><g clip-path="url(#c3)" fill="none"><path d="M42.3 389.5C42.87 388.67 44.57 386 45.7 384.5C46.83 383 48.17 381.92 49.1 380.5C50.03 379.08 50.55 377.5 51.3 376C52.05 374.5 52.83 373.17 53.6 371.5C54.37 369.83 55.15 367.83 55.9 366C56.65 364.17 57.35 362.17 58.1 360.5C58.85 358.83 59.73 357.33 60.4 356C61.07 354.67 61.63 353.75 62.1 352.5C62.57 351.25 62.82 350 63.2 348.5C63.58 347 64.02 344.83 64.4 343.5C64.78 342.17 65.15 340.92 65.5 340.5C65.85 340.08 66.12 340.58 66.5 341C66.88 341.42 67.3 341.92 67.8 343C68.3 344.08 68.78 347.27 69.5 347.5C70.22 347.73 71.18 345.03 72.1 344.4C73.02 343.77 74.05 343.6 75 343.7C75.95 343.8 76.98 343.83 77.8 345C78.62 346.17 79.08 349.03 79.9 350.7C80.72 352.37 81.28 353.93 82.7 355C84.12 356.07 87.02 356.52 88.4 357.1C89.78 357.68 89.93 359.1 91 358.5C92.07 357.9 93.58 354.67 94.8 353.5C96.02 352.33 97.02 352.08 98.3 351.5C99.58 350.92 100.85 350.17 102.5 350C104.15 349.83 106.07 350.33 108.2 350.5C110.33 350.67 113.33 350.77 115.3 351C117.27 351.23 118.99 351.92 120 351.9C121.01 351.88 119.22 351.34 121.33 350.86C123.44 350.39 128.89 349.5 132.66 349.05C136.44 348.6 140.22 348.22 143.99 348.14C147.77 348.07 152.3 347.77 155.33 348.6C158.35 349.43 159.86 351.62 162.12 353.13C164.39 354.64 167.03 356.53 168.92 357.66C170.81 358.8 171.19 359.74 173.46 359.93C175.72 360.12 180.25 358.8 182.52 358.8C184.79 358.8 186.72 359.66 187.05 359.93C187.39 360.19 184.2 360.38 184.53 360.38C184.87 360.38 187.18 360.57 189.07 359.93C190.95 359.29 193.6 357.29 195.86 356.53C198.13 355.77 200.4 355.4 202.66 355.4C204.93 355.4 207.2 356.15 209.46 356.53C211.73 356.91 213.62 357.29 216.26 357.66C218.9 358.04 222.3 358.8 225.33 358.8C228.35 358.8 231.37 358.04 234.39 357.66C237.41 357.29 240.43 356.53 243.46 356.53C246.48 356.53 249.46 357.28 252.52 357.66C255.58 358.04 258.44 358.58 261.8 358.8C265.16 359.02 269 358.97 272.7 359C276.4 359.03 281.4 358.92 284 359C286.6 359.08 286.65 359.27 288.3 359.5C289.95 359.73 292.05 360.32 293.9 360.4C295.75 360.48 297.78 359.87 299.4 360C301.02 360.13 302.2 361.12 303.6 361.2C305 361.28 305.72 360.7 307.8 360.5C309.88 360.3 312.87 360.08 316.1 360C319.33 359.92 323.5 360.05 327.2 360C330.9 359.95 334.95 359.78 338.3 359.7C341.65 359.62 345.8 359.53 347.3 359.5" stroke="#ff0000" stroke-width="1.1" stroke-dasharray="1 1"/><path d="M42.3 392.5C42.87 391.83 44.57 389.67 45.7 388.5C46.83 387.33 48.17 386.75 49.1 385.5C50.03 384.25 50.55 382.5 51.3 381C52.05 379.5 52.83 378.25 53.6 376.5C54.37 374.75 55.15 372.42 55.9 370.5C56.65 368.58 57.35 366.75 58.1 365C58.85 363.25 59.73 361.33 60.4 360C61.07 358.67 61.63 358 62.1 357C62.57 356 62.82 355.17 63.2 354C63.58 352.83 63.92 351.17 64.4 350C64.88 348.83 65.53 347.25 66.1 347C66.67 346.75 67.15 347.4 67.8 348.5C68.45 349.6 69.28 353.7 70 353.6C70.72 353.5 71.27 349.08 72.1 347.9C72.93 346.72 73.93 346.27 75 346.5C76.07 346.73 77.57 347.18 78.5 349.3C79.43 351.42 79.9 357.18 80.6 359.2C81.3 361.22 81.75 361.03 82.7 361.4C83.65 361.77 85.12 360.93 86.3 361.4C87.48 361.87 88.73 364.2 89.8 364.2C90.87 364.2 91.75 362.58 92.7 361.4C93.65 360.22 94.57 358.17 95.5 357.1C96.43 356.03 97.13 355.7 98.3 355C99.47 354.3 100.85 353.25 102.5 352.9C104.15 352.55 106.07 352.83 108.2 352.9C110.33 352.97 113.33 353.13 115.3 353.3C117.27 353.47 118.99 353.74 120 353.9C121.01 354.06 119.22 354.32 121.33 354.26C123.44 354.21 128.89 353.77 132.66 353.58C136.44 353.39 140.22 352.9 143.99 353.13C147.77 353.36 151.93 353.89 155.33 354.94C158.73 356 161.75 357.89 164.39 359.48C167.03 361.06 168.92 363.06 171.19 364.46C173.46 365.86 176.1 367.86 177.99 367.86C179.88 367.86 181.01 364.73 182.52 364.46C184.03 364.2 186.72 366.27 187.05 366.27C187.39 366.27 183.82 364.01 184.53 364.46C185.25 364.92 189.44 367.86 191.33 368.99C193.22 370.13 193.98 371.45 195.86 371.26C197.75 371.07 200.4 368.24 202.66 367.86C204.93 367.48 207.2 368.43 209.46 368.99C211.73 369.56 213.99 370.58 216.26 371.26C218.53 371.94 220.79 373.45 223.06 373.07C225.33 372.7 227.21 370.51 229.86 368.99C232.5 367.48 235.9 365.14 238.92 364.01C241.95 362.88 244.18 362.7 247.99 362.2C251.8 361.69 257.68 361.15 261.8 361C265.92 360.85 269 361.25 272.7 361.3C276.4 361.35 281.4 361.18 284 361.3C286.6 361.42 286.65 361.72 288.3 362C289.95 362.28 292.05 362.93 293.9 363C295.75 363.07 297.78 362.27 299.4 362.4C301.02 362.53 302.2 363.7 303.6 363.8C305 363.9 305.72 363.23 307.8 363C309.88 362.77 312.87 362.52 316.1 362.4C319.33 362.28 323.5 362.37 327.2 362.3C330.9 362.23 334.95 362.08 338.3 362C341.65 361.92 345.8 361.83 347.3 361.8" stroke="#ff0000" stroke-width="1.1" stroke-dasharray="1 1"/><path d="M42.3 391C42.87 390.25 44.57 387.82 45.7 386.5C46.83 385.18 48.17 384.43 49.1 383.1C50.03 381.77 50.55 380.02 51.3 378.5C52.05 376.98 52.83 375.7 53.6 374C54.37 372.3 55.15 370.18 55.9 368.3C56.65 366.42 57.35 364.4 58.1 362.7C58.85 361 59.73 359.43 60.4 358.1C61.07 356.77 61.63 355.83 62.1 354.7C62.57 353.57 62.82 352.62 63.2 351.3C63.58 349.98 63.92 348.12 64.4 346.8C64.88 345.48 65.53 343.58 66.1 343.4C66.67 343.22 67.23 344.57 67.8 345.7C68.37 346.83 69.08 349.4 69.5 350.2C69.92 351 69.87 351.12 70.3 350.5C70.73 349.88 71.32 347.4 72.1 346.5C72.88 345.6 74.05 345.1 75 345.1C75.95 345.1 77.1 345.57 77.8 346.5C78.5 347.43 78.73 349.28 79.2 350.7C79.67 352.12 80.02 353.93 80.6 355C81.18 356.07 81.87 356.63 82.7 357.1C83.53 357.57 84.65 357.45 85.6 357.8C86.55 358.15 87.58 358.72 88.4 359.2C89.22 359.68 89.78 360.93 90.5 360.7C91.22 360.47 91.98 358.75 92.7 357.8C93.42 356.85 93.87 355.82 94.8 355C95.73 354.18 97.23 353.62 98.3 352.9C99.37 352.18 100.13 351.02 101.2 350.7C102.27 350.38 103.53 350.87 104.7 351C105.87 351.13 107.02 351.42 108.2 351.5C109.38 351.58 110.62 351.38 111.8 351.5C112.98 351.62 113.93 351.97 115.3 352.2C116.67 352.43 118.99 352.82 120 352.9C121.01 352.98 119.22 352.83 121.33 352.68C123.44 352.53 128.89 352.22 132.66 352C136.44 351.77 140.97 351.51 143.99 351.32C147.02 351.13 148.53 350.56 150.79 350.86C153.06 351.17 155.33 352.19 157.59 353.13C159.86 354.07 162.5 355.4 164.39 356.53C166.28 357.66 167.41 359.06 168.92 359.93C170.43 360.8 171.95 361.18 173.46 361.74C174.97 362.31 176.48 363.44 177.99 363.33C179.5 363.22 181.01 361.25 182.52 361.06C184.03 360.87 186.34 361.82 187.05 362.2C187.77 362.57 186.09 362.76 186.8 363.33C187.51 363.9 190.2 364.65 191.33 365.59C192.46 366.54 192.84 368.24 193.6 368.99C194.35 369.75 195.11 370.96 195.86 370.13C196.62 369.3 197 365.25 198.13 364.01C199.26 362.76 200.77 362.76 202.66 362.65C204.55 362.54 207.2 363.03 209.46 363.33C211.73 363.63 214.18 363.9 216.26 364.46C218.34 365.03 220.42 366.54 221.93 366.73C223.44 366.92 223.63 366.16 225.33 365.59C227.03 365.03 229.86 364.2 232.12 363.33C234.39 362.46 237.03 360.95 238.92 360.38C240.81 359.82 241.57 359.93 243.46 359.93C245.34 359.93 247.2 360.4 250.25 360.38C253.31 360.36 258.06 359.86 261.8 359.8C265.54 359.74 269 359.97 272.7 360C276.4 360.03 281.4 359.9 284 360C286.6 360.1 286.65 360.32 288.3 360.6C289.95 360.88 292.05 361.62 293.9 361.7C295.75 361.78 297.78 360.97 299.4 361.1C301.02 361.23 302.2 362.4 303.6 362.5C305 362.6 305.72 361.93 307.8 361.7C309.88 361.47 312.87 361.2 316.1 361.1C319.33 361 323.5 361.15 327.2 361.1C330.9 361.05 334.95 360.88 338.3 360.8C341.65 360.72 345.8 360.63 347.3 360.6" stroke="#ff0000" stroke-width="1.4" stroke-linejoin="round"/><polyline points="41.9,392.4 62.3,355 81.7,356.1 104.2,356.1 156,356.5 175.8,361.8 184.4,361.8 199.3,363.3 241.7,359.5 247.3,359.5 261.8,359.5 284.5,359.5 347.3,354.5" stroke="#0000ff" stroke-width="1.45" stroke-linejoin="round"/></g><circle cx="41.9" cy="392.4" r="2.95" stroke="#0000ff" stroke-width="1.2" fill="none"/><circle cx="62.3" cy="355" r="2.95" stroke="#0000ff" stroke-width="1.2" fill="none"/><circle cx="81.7" cy="356.1" r="2.95" stroke="#0000ff" stroke-width="1.2" fill="none"/><circle cx="104.2" cy="356.1" r="2.95" stroke="#0000ff" stroke-width="1.2" fill="none"/><circle cx="156" cy="356.5" r="2.95" stroke="#0000ff" stroke-width="1.2" fill="none"/><circle cx="175.8" cy="361.8" r="2.95" stroke="#0000ff" stroke-width="1.2" fill="none"/><circle cx="184.4" cy="361.8" r="2.95" stroke="#0000ff" stroke-width="1.2" fill="none"/><circle cx="199.3" cy="363.3" r="2.95" stroke="#0000ff" stroke-width="1.2" fill="none"/><circle cx="241.7" cy="359.5" r="2.95" stroke="#0000ff" stroke-width="1.2" fill="none"/><circle cx="247.3" cy="359.5" r="2.95" stroke="#0000ff" stroke-width="1.2" fill="none"/><circle cx="261.8" cy="359.5" r="2.95" stroke="#0000ff" stroke-width="1.2" fill="none"/><circle cx="284.5" cy="359.5" r="2.95" stroke="#0000ff" stroke-width="1.2" fill="none"/><circle cx="347.3" cy="354.5" r="2.95" stroke="#0000ff" stroke-width="1.2" fill="none"/><rect x="42" y="339.2" width="305.3" height="73.6" fill="none" stroke="#2b2b2b" stroke-width="1.15"/><path d="M53.14 412.8v-3M53.14 339.2v3M110.26 412.8v-3M110.26 339.2v3M167.38 412.8v-3M167.38 339.2v3M224.49 412.8v-3M224.49 339.2v3M281.61 412.8v-3M281.61 339.2v3M338.73 412.8v-3M338.73 339.2v3M42 412.8h3M347.3 412.8h-3M42 376h3M347.3 376h-3M42 339.2h3M347.3 339.2h-3" stroke="#262626" stroke-width="1.1" fill="none"/><text x="53.14" y="425.5" font-size="10.9" fill="#262626" text-anchor="middle">4</text><text x="110.26" y="425.5" font-size="10.9" fill="#262626" text-anchor="middle">6</text><text x="167.38" y="425.5" font-size="10.9" fill="#262626" text-anchor="middle">8</text><text x="224.49" y="425.5" font-size="10.9" fill="#262626" text-anchor="middle">10</text><text x="281.61" y="425.5" font-size="10.9" fill="#262626" text-anchor="middle">12</text><text x="338.73" y="425.5" font-size="10.9" fill="#262626" text-anchor="middle">14</text><text x="37.5" y="416.1" font-size="10.9" fill="#262626" text-anchor="end">0.9</text><text x="37.5" y="379.3" font-size="10.9" fill="#262626" text-anchor="end">0.95</text><text x="37.5" y="342.5" font-size="10.9" fill="#262626" text-anchor="end">1</text><text class="t" x="194.65" y="333" font-size="11.8" font-weight="bold" fill="#000" text-anchor="middle">ARM_SGP</text><text transform="translate(10.3 375.9) rotate(-90)" font-size="11.3" fill="#262626" text-anchor="middle">Emis</text></g><g><path d="M53.14 446.6V520.2M110.26 446.6V520.2M167.38 446.6V520.2M224.49 446.6V520.2M281.61 446.6V520.2M338.73 446.6V520.2" stroke="#262626" stroke-opacity="0.17" stroke-width="0.9" fill="none"/><path d="M42 495.67H347.3M42 471.13H347.3" stroke="#262626" stroke-opacity="0.17" stroke-width="0.9" fill="none"/><clipPath id="c4"><rect x="42" y="446.6" width="305.3" height="73.6"/></clipPath><g clip-path="url(#c4)" fill="none"><path d="M41.85 461.94C42.34 461.72 43.17 460.43 44.8 460.58C46.42 460.73 48.95 462.36 51.6 462.85C54.24 463.34 57.26 463.23 60.66 463.53C64.06 463.83 68.22 464.47 71.99 464.66C75.77 464.85 79.55 464.85 83.33 464.66C87.1 464.47 91.18 463.91 94.66 463.53C98.13 463.15 101.62 462.77 104.18 462.4C106.73 462.02 107.9 461.26 110 461.26C112.1 461.26 114.15 462.4 116.8 462.4C119.44 462.4 123.22 461.07 125.86 461.26C128.51 461.45 129.64 463.15 132.66 463.53C135.68 463.91 140.22 463.91 143.99 463.53C147.77 463.15 151.93 461.53 155.33 461.26C158.73 461 161.37 461.68 164.39 461.94C167.41 462.21 170.85 462.59 173.46 462.85C176.06 463.11 177.02 463.42 180 463.53C182.98 463.64 187.55 463.34 191.33 463.53C195.11 463.72 198.89 465.04 202.66 464.66C206.44 464.29 210.22 462.02 213.99 461.26C217.77 460.51 222.3 460.7 225.33 460.13C228.35 459.56 229.86 457.86 232.12 457.86C234.39 457.86 236.66 459 238.92 460.13C241.19 461.26 243.46 462.96 245.72 464.66C247.99 466.36 251.81 469.76 252.52 470.33C253.23 470.9 249.29 467.68 250 468.06C250.71 468.44 254.53 471.27 256.8 472.59C259.07 473.92 261.33 475.05 263.6 475.99C265.86 476.94 268.13 477.88 270.4 478.26C272.66 478.64 274.93 478.07 277.2 478.26C279.46 478.45 281.73 479.02 283.99 479.39C286.26 479.77 288.15 480.34 290.79 480.53C293.44 480.72 297.07 480.94 299.86 480.53C302.64 480.11 304.98 478.82 307.51 478.03C310.03 477.24 312.76 476.53 315.01 475.78C317.27 475.03 319.02 473.78 321.02 473.53C323.02 473.28 324.77 474.91 327.03 474.28C329.28 473.65 332.03 471.15 334.53 469.78C337.03 468.4 339.91 466.9 342.04 466.02C344.17 465.15 346.42 464.77 347.29 464.52" stroke="#ff0000" stroke-width="1.1" stroke-dasharray="1 1"/><path d="M41.85 468.06C43.48 468.25 48.46 469.01 51.6 469.2C54.73 469.38 57.26 468.82 60.66 469.2C64.06 469.57 68.22 471.08 71.99 471.46C75.77 471.84 79.55 471.46 83.33 471.46C87.1 471.46 91.18 471.65 94.66 471.46C98.13 471.27 101.62 470.78 104.18 470.33C106.73 469.88 107.9 468.93 110 468.74C112.1 468.55 114.15 468.93 116.8 469.2C119.44 469.46 123.22 469.95 125.86 470.33C128.51 470.71 129.64 471.58 132.66 471.46C135.68 471.35 140.59 470.1 143.99 469.65C147.39 469.2 150.04 469.01 153.06 468.74C156.08 468.48 159.1 467.99 162.12 468.06C165.15 468.14 168.21 468.82 171.19 469.2C174.17 469.57 176.64 470.14 180 470.33C183.36 470.52 187.55 470.44 191.33 470.33C195.11 470.22 198.89 470.22 202.66 469.65C206.44 469.08 210.22 467.76 213.99 466.93C217.77 466.1 222.3 465.34 225.33 464.66C228.35 463.98 229.86 462.47 232.12 462.85C234.39 463.23 236.66 465.49 238.92 466.93C241.19 468.36 243.46 469.76 245.72 471.46C247.99 473.16 250.14 475.05 252.52 477.13C254.9 479.2 259.29 483.17 260 483.93C260.71 484.68 256.2 481.09 256.8 481.66C257.4 482.23 261.33 486 263.6 487.33C265.86 488.65 268.13 489.03 270.4 489.59C272.66 490.16 274.93 489.97 277.2 490.73C279.46 491.48 281.73 493.18 283.99 494.12C286.26 495.07 288.15 495.82 290.79 496.39C293.44 496.96 296.84 497.52 299.86 497.52C302.88 497.52 306.4 497.14 308.92 496.39C311.45 495.64 313 493.98 315.01 493.05C317.03 492.12 319.02 490.92 321.02 490.8C323.02 490.67 324.77 492.92 327.03 492.3C329.28 491.67 332.03 488.54 334.53 487.04C337.03 485.54 339.91 484.29 342.04 483.29C344.17 482.29 346.42 481.41 347.29 481.04" stroke="#ff0000" stroke-width="1.1" stroke-dasharray="1 1"/><path d="M41.85 464.66C42.34 464.59 43.17 464.02 44.8 464.21C46.42 464.4 48.69 465.53 51.6 465.8C54.51 466.06 58.85 465.53 62.25 465.8C65.65 466.06 68.75 466.89 71.99 467.38C75.24 467.87 78.34 468.63 81.74 468.74C85.14 468.86 88.65 468.36 92.39 468.06C96.13 467.76 101.24 467.5 104.18 466.93C107.11 466.36 107.9 464.85 110 464.66C112.1 464.47 114.15 465.8 116.8 465.8C119.44 465.8 123.22 464.47 125.86 464.66C128.51 464.85 129.64 466.63 132.66 466.93C135.68 467.23 140.59 466.85 143.99 466.48C147.39 466.1 150.04 465.04 153.06 464.66C156.08 464.29 159.1 464.02 162.12 464.21C165.15 464.4 168.55 465.34 171.19 465.8C173.83 466.25 175.39 466.93 177.99 466.93C180.59 466.93 184.2 465.8 186.8 465.8C189.4 465.8 190.95 466.66 193.6 466.93C196.24 467.19 200.02 467.76 202.66 467.38C205.31 467 207.2 465.31 209.46 464.66C211.73 464.02 213.62 463.91 216.26 463.53C218.9 463.15 222.68 462.96 225.33 462.4C227.97 461.83 230.24 460.32 232.12 460.13C234.01 459.94 235.15 460.51 236.66 461.26C238.17 462.02 239.68 463.53 241.19 464.66C242.7 465.8 244.21 466.93 245.72 468.06C247.23 469.2 248.74 470.14 250.25 471.46C251.77 472.78 254.83 475.99 254.79 475.99C254.75 475.99 249.66 471.46 250 471.46C250.34 471.46 254.53 474.67 256.8 475.99C259.07 477.32 261.33 478.26 263.6 479.39C265.86 480.53 268.13 482.3 270.4 482.79C272.66 483.28 274.93 482.15 277.2 482.34C279.46 482.53 281.73 483.1 283.99 483.93C286.26 484.76 288.53 486.46 290.79 487.33C293.06 488.19 295.33 488.95 297.59 489.14C299.86 489.33 302.74 488.68 304.39 488.46C306.04 488.23 305.74 488.4 307.51 487.79C309.28 487.18 312.76 485.72 315.01 484.79C317.27 483.86 319.27 482.36 321.02 482.24C322.77 482.11 324.02 484.11 325.52 484.04C327.03 483.96 328.03 482.91 330.03 481.79C332.03 480.66 335.03 478.53 337.54 477.28C340.04 476.03 343.42 474.91 345.04 474.28C346.67 473.65 346.92 473.65 347.29 473.53" stroke="#ff0000" stroke-width="1.4" stroke-linejoin="round"/><polyline points="41.9,467 62.3,465.8 81.8,469.7 104.2,469.7 156,469.7 175.8,472.6 184.3,472.6 199.3,469.7 241.2,465.8 247.3,469.7 261.8,476 284.5,476 347.3,475.8" stroke="#0000ff" stroke-width="1.45" stroke-linejoin="round"/></g><circle cx="41.9" cy="467" r="2.95" stroke="#0000ff" stroke-width="1.2" fill="none"/><circle cx="62.3" cy="465.8" r="2.95" stroke="#0000ff" stroke-width="1.2" fill="none"/><circle cx="81.8" cy="469.7" r="2.95" stroke="#0000ff" stroke-width="1.2" fill="none"/><circle cx="104.2" cy="469.7" r="2.95" stroke="#0000ff" stroke-width="1.2" fill="none"/><circle cx="156" cy="469.7" r="2.95" stroke="#0000ff" stroke-width="1.2" fill="none"/><circle cx="175.8" cy="472.6" r="2.95" stroke="#0000ff" stroke-width="1.2" fill="none"/><circle cx="184.3" cy="472.6" r="2.95" stroke="#0000ff" stroke-width="1.2" fill="none"/><circle cx="199.3" cy="469.7" r="2.95" stroke="#0000ff" stroke-width="1.2" fill="none"/><circle cx="241.2" cy="465.8" r="2.95" stroke="#0000ff" stroke-width="1.2" fill="none"/><circle cx="247.3" cy="469.7" r="2.95" stroke="#0000ff" stroke-width="1.2" fill="none"/><circle cx="261.8" cy="476" r="2.95" stroke="#0000ff" stroke-width="1.2" fill="none"/><circle cx="284.5" cy="476" r="2.95" stroke="#0000ff" stroke-width="1.2" fill="none"/><circle cx="347.3" cy="475.8" r="2.95" stroke="#0000ff" stroke-width="1.2" fill="none"/><rect x="42" y="446.6" width="305.3" height="73.6" fill="none" stroke="#2b2b2b" stroke-width="1.15"/><path d="M53.14 520.2v-3M53.14 446.6v3M110.26 520.2v-3M110.26 446.6v3M167.38 520.2v-3M167.38 446.6v3M224.49 520.2v-3M224.49 446.6v3M281.61 520.2v-3M281.61 446.6v3M338.73 520.2v-3M338.73 446.6v3M42 520.2h3M347.3 520.2h-3M42 495.67h3M347.3 495.67h-3M42 471.13h3M347.3 471.13h-3M42 446.6h3M347.3 446.6h-3" stroke="#262626" stroke-width="1.1" fill="none"/><text x="53.14" y="532.9" font-size="10.9" fill="#262626" text-anchor="middle">4</text><text x="110.26" y="532.9" font-size="10.9" fill="#262626" text-anchor="middle">6</text><text x="167.38" y="532.9" font-size="10.9" fill="#262626" text-anchor="middle">8</text><text x="224.49" y="532.9" font-size="10.9" fill="#262626" text-anchor="middle">10</text><text x="281.61" y="532.9" font-size="10.9" fill="#262626" text-anchor="middle">12</text><text x="338.73" y="532.9" font-size="10.9" fill="#262626" text-anchor="middle">14</text><text x="37.5" y="523.5" font-size="10.9" fill="#262626" text-anchor="end">0.94</text><text x="37.5" y="498.97" font-size="10.9" fill="#262626" text-anchor="end">0.96</text><text x="37.5" y="474.43" font-size="10.9" fill="#262626" text-anchor="end">0.98</text><text x="37.5" y="449.9" font-size="10.9" fill="#262626" text-anchor="end">1</text><text class="t" x="194.65" y="440.4" font-size="11.8" font-weight="bold" fill="#000" text-anchor="middle">Greenland</text><text transform="translate(10.3 483.3) rotate(-90)" font-size="11.3" fill="#262626" text-anchor="middle">Emis</text></g><g><rect x="244.8" y="49.0" width="92.4" height="31.9" fill="#fff" stroke="#262626" stroke-width="1.1"/><path d="M250.2 55.3H281" stroke="#ff0000" stroke-width="1.4"/><path d="M250.2 65.0H281" stroke="#ff0000" stroke-width="1.1" stroke-dasharray="1 1"/><path d="M250.2 74.6H281" stroke="#0000ff" stroke-width="1.45"/><circle cx="265.6" cy="74.6" r="2.95" stroke="#0000ff" stroke-width="1.2" fill="none"/><text x="284.3" y="58.6" font-size="10" fill="#262626">HSR</text><text x="284.3" y="68.3" font-size="10" fill="#262626">HSR Unc.</text><text x="284.3" y="77.9" font-size="10" fill="#262626">13 Channel</text></g><text x="194.65" y="545" font-size="12.1" fill="#262626" text-anchor="middle">Wavelength (<tspan font-style="italic" font-family="Liberation Serif, serif">&#956;</tspan>m)</text></svg></body></html>
